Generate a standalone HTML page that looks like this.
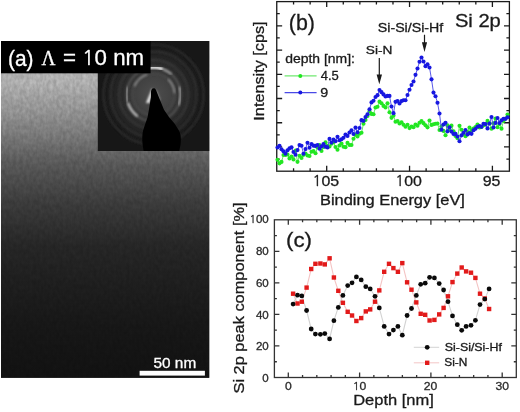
<!DOCTYPE html>
<html><head><meta charset="utf-8"><style>
html,body{margin:0;padding:0;background:#fff;width:520px;height:412px;overflow:hidden}
svg{display:block}
text{font-family:"Liberation Sans",Arial,sans-serif}
</style></head><body>
<svg width="520" height="412" viewBox="0 0 520 412">
<defs>
<linearGradient id="tem" x1="0" y1="41" x2="0" y2="377.8" gradientUnits="userSpaceOnUse">
<stop offset="0.0000" stop-color="rgb(178,178,178)"/>
<stop offset="0.1247" stop-color="rgb(174,174,174)"/>
<stop offset="0.2346" stop-color="rgb(137,137,137)"/>
<stop offset="0.3682" stop-color="rgb(87,87,87)"/>
<stop offset="0.4869" stop-color="rgb(58,58,58)"/>
<stop offset="0.6057" stop-color="rgb(38,38,38)"/>
<stop offset="0.7245" stop-color="rgb(30,30,30)"/>
<stop offset="0.8432" stop-color="rgb(23,23,23)"/>
<stop offset="0.9531" stop-color="rgb(19,19,19)"/>
<stop offset="1.0006" stop-color="rgb(18,18,18)"/>
</linearGradient>
<radialGradient id="glow" cx="153.6" cy="94.5" r="56" gradientUnits="userSpaceOnUse">
<stop offset="0" stop-color="#4e4e4e"/>
<stop offset="0.36" stop-color="#404040"/>
<stop offset="0.5" stop-color="#2e2e2e"/>
<stop offset="0.72" stop-color="#222"/>
<stop offset="1" stop-color="#181818" stop-opacity="0"/>
</radialGradient>
<filter id="blur1" x="-20%" y="-20%" width="140%" height="140%"><feGaussianBlur stdDeviation="1.2"/></filter>
<filter id="blur06" x="-20%" y="-20%" width="140%" height="140%"><feGaussianBlur stdDeviation="0.6"/></filter>
<filter id="noise" x="0" y="0" width="100%" height="100%" color-interpolation-filters="sRGB">
<feTurbulence type="fractalNoise" baseFrequency="0.3 0.2" numOctaves="2" seed="3" result="t"/>
<feColorMatrix in="t" type="matrix" values="1 0 0 0 0  1 0 0 0 0  1 0 0 0 0  0 0 0 0 1" result="g"/>
<feComposite in="SourceGraphic" in2="g" operator="arithmetic" k1="0.28" k2="0.86" k3="0" k4="0"/>
</filter>
</defs>
<g>
<rect x="0" y="0" width="520" height="412" fill="#fff"/>

<rect x="1" y="41" width="208.3" height="336.8" fill="url(#tem)" filter="url(#noise)"/>
<g>
<rect x="97.8" y="41" width="111.5" height="110" fill="#171717"/>
<rect x="97.8" y="41" width="111.5" height="110" fill="url(#glow)"/>
<clipPath id="insclip"><rect x="97.8" y="41" width="111.5" height="110"/></clipPath>
<g clip-path="url(#insclip)" fill="none">
<circle cx="153.6" cy="94.5" r="50" stroke="#2a2a2a" stroke-width="2.2" filter="url(#blur1)"/>
<circle cx="153.6" cy="94.5" r="43" stroke="#303030" stroke-width="2" filter="url(#blur1)"/>
<circle cx="153.6" cy="94.5" r="34.5" stroke="#383838" stroke-width="1.8" filter="url(#blur1)"/>
<circle cx="153.6" cy="94.5" r="27" stroke="#565656" stroke-width="1.8" filter="url(#blur1)"/>
<circle cx="153.6" cy="94.5" r="21" stroke="#4a4a4a" stroke-width="1.6" filter="url(#blur1)"/>
<path d="M145.26 68.82 A27 27 0 0 1 161.94 68.82" stroke="#f4f4f4" stroke-width="2.8" stroke-linecap="round" filter="url(#blur1)"/>
<path d="M138.11 72.38 A27 27 0 0 1 143.49 69.47" stroke="#a0a0a0" stroke-width="2" stroke-linecap="round" filter="url(#blur1)"/>
<path d="M163.71 69.47 A27 27 0 0 1 170.96 73.82" stroke="#9a9a9a" stroke-width="2" stroke-linecap="round" filter="url(#blur1)"/>
<path d="M179.68 87.51 A27 27 0 0 1 178.63 104.61" stroke="#9c9c9c" stroke-width="2" stroke-linecap="round" filter="url(#blur1)"/>
<path d="M136.98 115.78 A27 27 0 0 1 128.23 103.73" stroke="#bcbcbc" stroke-width="2.2" stroke-linecap="round" filter="url(#blur1)"/>
<path d="M127.52 101.49 A27 27 0 0 1 127.52 87.51" stroke="#8c8c8c" stroke-width="2" stroke-linecap="round" filter="url(#blur1)"/>
<path d="M134.57 85.63 A21 21 0 0 1 146.42 74.77" stroke="#8a8a8a" stroke-width="1.8" stroke-linecap="round" filter="url(#blur1)"/>
<path d="M168.45 79.65 A21 21 0 0 1 174.52 92.67" stroke="#8a8a8a" stroke-width="1.8" stroke-linecap="round" filter="url(#blur1)"/>
<path d="M152 88.5 L146 103 L149.5 103 L153.5 90 Z" fill="#f0f0f0" filter="url(#blur1)"/>
<path d="M156 89.5 L160.5 100 L158.5 100.5 L155 91 Z" fill="#9a9a9a" filter="url(#blur1)"/>
</g>
<path d="M153.6 88.2 C151.6 88.2 151.2 90 151 92 L150.9 97.5 L148.9 109.7 L147.5 117.5 L145.4 123.6 L143.1 130.6 C142.2 134 142 140 142.6 144.6 L143.6 151 L179.2 151 L180.6 144.6 C181.2 140 181 134 178.9 130.6 L174.5 123.6 L169.3 117.5 L164 109.7 L159.7 99.2 L156.2 90.5 C155.6 88.8 154.8 88.2 153.6 88.2 Z" fill="#050505" filter="url(#blur06)"/>
</g>
<rect x="1" y="41" width="149.6" height="32.3" fill="#000"/>
<text transform="translate(7.95,65.52) scale(0.959,1)" font-size="21.81" fill="#fff" stroke="#fff" stroke-width="0.3">(a)</text>
<text transform="translate(41.61,64.80) scale(0.936,1)" font-size="20.61" fill="#fff" stroke="#fff" stroke-width="0.3" style="font-family:'Liberation Serif',serif">&#923;</text>
<text transform="translate(62.89,65.18) scale(1.034,1)" font-size="21.55" fill="#fff" stroke="#fff" stroke-width="0.3">= <tspan font-family="NanumGothic, sans-serif" font-size="19.96">1</tspan>0 nm</text>
<rect x="139.6" y="370.8" width="65.3" height="4.8" fill="#fff"/>
<text transform="translate(153.48,367.71) scale(1.087,1)" font-size="14.15" fill="#fff" stroke="#fff" stroke-width="0.3">50 nm</text>
<g stroke="#1a1a1a" stroke-width="1.3" fill="none">
<rect x="276.75" y="1.6" width="232.65" height="169.6"/>
<path d="M492.4 171.2v-5.4M492.4 1.6v5.4M475.83 171.2v-3M475.83 1.6v3M459.26 171.2v-3M459.26 1.6v3M442.69 171.2v-3M442.69 1.6v3M426.12 171.2v-3M426.12 1.6v3M409.55 171.2v-5.4M409.55 1.6v5.4M392.98 171.2v-3M392.98 1.6v3M376.41 171.2v-3M376.41 1.6v3M359.84 171.2v-3M359.84 1.6v3M343.27 171.2v-3M343.27 1.6v3M326.7 171.2v-5.4M326.7 1.6v5.4M310.13 171.2v-3M310.13 1.6v3M293.56 171.2v-3M293.56 1.6v3M276.75 159.09h3M509.4 159.09h-3M276.75 146.97h5.4M509.4 146.97h-5.4M276.75 134.86h3M509.4 134.86h-3M276.75 122.74h5.4M509.4 122.74h-5.4M276.75 110.63h3M509.4 110.63h-3M276.75 98.51h5.4M509.4 98.51h-5.4M276.75 86.4h3M509.4 86.4h-3M276.75 74.29h5.4M509.4 74.29h-5.4M276.75 62.17h3M509.4 62.17h-3M276.75 50.06h5.4M509.4 50.06h-5.4M276.75 37.94h3M509.4 37.94h-3M276.75 25.83h5.4M509.4 25.83h-5.4M276.75 13.71h3M509.4 13.71h-3"/>
</g>
<text transform="translate(325.80,186.40) scale(1.090,1)" font-size="14.60" fill="#1a1a1a" stroke="#1a1a1a" stroke-width="0.3" text-anchor="middle"><tspan font-family="NanumGothic, sans-serif" font-size="13.52">1</tspan>05</text>
<text transform="translate(408.65,186.40) scale(1.090,1)" font-size="14.60" fill="#1a1a1a" stroke="#1a1a1a" stroke-width="0.3" text-anchor="middle"><tspan font-family="NanumGothic, sans-serif" font-size="13.52">1</tspan>00</text>
<text transform="translate(491.50,186.40) scale(1.090,1)" font-size="14.60" fill="#1a1a1a" stroke="#1a1a1a" stroke-width="0.3" text-anchor="middle">95</text>
<text transform="translate(319.99,205.40) scale(1.187,1)" font-size="13.83" fill="#1a1a1a" stroke="#1a1a1a" stroke-width="0.3">Binding Energy [eV]</text>
<text transform="translate(263.85,120.66) rotate(-90) scale(1.083,1)" font-size="15.00" fill="#1a1a1a" stroke="#1a1a1a" stroke-width="0.3">Intensity [cps]</text>
<text transform="translate(288.82,29.83) scale(1.004,1)" font-size="21.28" fill="#1a1a1a" stroke="#1a1a1a" stroke-width="0.3">(b)</text>
<text transform="translate(454.89,27.18) scale(1.109,1)" font-size="18.19" fill="#1a1a1a" stroke="#1a1a1a" stroke-width="0.3">Si 2p</text>
<text transform="translate(377.79,31.57) scale(1.131,1)" font-size="12.57" fill="#1a1a1a" stroke="#1a1a1a" stroke-width="0.3">Si-Si/Si-Hf</text>
<text transform="translate(365.87,53.88) scale(1.177,1)" font-size="11.62" fill="#1a1a1a" stroke="#1a1a1a" stroke-width="0.3">Si-N</text>
<path d="M379.3 58v17M424.5 34.7v8.5" stroke="#1a1a1a" stroke-width="1.2"/>
<path d="M376.6 74.5h5.4l-2.7 9.8z M421.9 42.3h5.2l-2.6 9.6z" fill="#1a1a1a"/>
<text transform="translate(285.24,62.56) scale(1.111,1)" font-size="12.55" fill="#1a1a1a" stroke="#1a1a1a" stroke-width="0.3">depth [nm]:</text>
<path d="M284.6 75.9h32" stroke="#70e870" stroke-width="1.1"/>
<circle cx="300.3" cy="75.9" r="2.0" fill="#22e622"/>
<text transform="translate(320.74,80.07) scale(0.969,1)" font-size="13.43" fill="#1a1a1a" stroke="#1a1a1a" stroke-width="0.3">4.5</text>
<path d="M284.6 92.6h32" stroke="#4a4ae6" stroke-width="1.1"/>
<circle cx="300.3" cy="92.6" r="2.0" fill="#1717e0"/>
<text transform="translate(320.18,97.17) scale(1.072,1)" font-size="13.38" fill="#1a1a1a" stroke="#1a1a1a" stroke-width="0.3">9</text>
<g>
<polyline points="277.5,159.87 279.5,163.37 281.5,161.91 283.5,155.01 285.5,155.04 287.5,154.46 289.5,158.39 291.5,156.46 293.5,159.39 295.5,150.62 297.5,161.83 299.5,155.77 301.5,158.01 303.5,154.84 305.5,153.51 307.5,155.57 309.5,156 311.5,151.71 313.5,151.08 315.5,153.23 317.5,147.54 319.5,144.95 321.5,151.04 323.5,147.02 325.5,142.37 327.5,145.73 329.5,146.51 331.5,143.64 333.5,142.23 335.5,147.05 337.5,149.69 339.5,145.56 341.5,143.54 343.5,146.75 345.5,147.13 347.5,142.92 349.5,145.04 351.5,145.05 353.5,138.8 355.5,134.73 357.5,136.43 359.5,133.76 361.5,132.78 363.5,123.68 365.5,119.93 367.5,116.07 369.5,111.28 371.5,113.88 373.5,114.18 375.5,107.52 377.5,106.77 379.5,101.64 381.5,103.25 383.5,105.9 385.5,107.41 387.5,103.24 389.5,112.23 391.5,117.83 393.5,115.59 395.5,121.79 397.5,121 399.5,123.46 401.5,122.32 403.5,124.76 405.5,126.79 407.5,124.75 409.5,128.1 411.5,126.49 413.5,127.28 415.5,124.46 417.5,125.67 419.5,122.71 421.5,121.02 423.5,123.14 425.5,125.27 427.5,127.33 429.5,120.48 431.5,124.89 433.5,124.31 435.5,123.69 437.5,123.49 439.5,130.01 441.5,126.23 443.5,130.88 445.5,135.18 447.5,125.31 449.5,129.39 451.5,125.63 453.5,131.2 455.5,136.02 457.5,138.26 459.5,125.83 461.5,129.75 463.5,133.69 465.5,136.27 467.5,131.93 469.5,127.56 471.5,130.41 473.5,128.54 475.5,127.11 477.5,124.5 479.5,127.52 481.5,126.9 483.5,125.33 485.5,124.7 487.5,120.88 489.5,123.4 491.5,128.65 493.5,123.3 495.5,118.46 497.5,127.29 499.5,123.95 501.5,128.67 503.5,121.05 505.5,118.6 507.5,114.58" fill="none" stroke="#55e855" stroke-width="0.9"/>
<circle cx="277.5" cy="159.87" r="2.05" fill="#22e622"/><circle cx="279.5" cy="163.37" r="2.05" fill="#22e622"/><circle cx="281.5" cy="161.91" r="2.05" fill="#22e622"/><circle cx="283.5" cy="155.01" r="2.05" fill="#22e622"/><circle cx="285.5" cy="155.04" r="2.05" fill="#22e622"/><circle cx="287.5" cy="154.46" r="2.05" fill="#22e622"/><circle cx="289.5" cy="158.39" r="2.05" fill="#22e622"/><circle cx="291.5" cy="156.46" r="2.05" fill="#22e622"/><circle cx="293.5" cy="159.39" r="2.05" fill="#22e622"/><circle cx="295.5" cy="150.62" r="2.05" fill="#22e622"/><circle cx="297.5" cy="161.83" r="2.05" fill="#22e622"/><circle cx="299.5" cy="155.77" r="2.05" fill="#22e622"/><circle cx="301.5" cy="158.01" r="2.05" fill="#22e622"/><circle cx="303.5" cy="154.84" r="2.05" fill="#22e622"/><circle cx="305.5" cy="153.51" r="2.05" fill="#22e622"/><circle cx="307.5" cy="155.57" r="2.05" fill="#22e622"/><circle cx="309.5" cy="156" r="2.05" fill="#22e622"/><circle cx="311.5" cy="151.71" r="2.05" fill="#22e622"/><circle cx="313.5" cy="151.08" r="2.05" fill="#22e622"/><circle cx="315.5" cy="153.23" r="2.05" fill="#22e622"/><circle cx="317.5" cy="147.54" r="2.05" fill="#22e622"/><circle cx="319.5" cy="144.95" r="2.05" fill="#22e622"/><circle cx="321.5" cy="151.04" r="2.05" fill="#22e622"/><circle cx="323.5" cy="147.02" r="2.05" fill="#22e622"/><circle cx="325.5" cy="142.37" r="2.05" fill="#22e622"/><circle cx="327.5" cy="145.73" r="2.05" fill="#22e622"/><circle cx="329.5" cy="146.51" r="2.05" fill="#22e622"/><circle cx="331.5" cy="143.64" r="2.05" fill="#22e622"/><circle cx="333.5" cy="142.23" r="2.05" fill="#22e622"/><circle cx="335.5" cy="147.05" r="2.05" fill="#22e622"/><circle cx="337.5" cy="149.69" r="2.05" fill="#22e622"/><circle cx="339.5" cy="145.56" r="2.05" fill="#22e622"/><circle cx="341.5" cy="143.54" r="2.05" fill="#22e622"/><circle cx="343.5" cy="146.75" r="2.05" fill="#22e622"/><circle cx="345.5" cy="147.13" r="2.05" fill="#22e622"/><circle cx="347.5" cy="142.92" r="2.05" fill="#22e622"/><circle cx="349.5" cy="145.04" r="2.05" fill="#22e622"/><circle cx="351.5" cy="145.05" r="2.05" fill="#22e622"/><circle cx="353.5" cy="138.8" r="2.05" fill="#22e622"/><circle cx="355.5" cy="134.73" r="2.05" fill="#22e622"/><circle cx="357.5" cy="136.43" r="2.05" fill="#22e622"/><circle cx="359.5" cy="133.76" r="2.05" fill="#22e622"/><circle cx="361.5" cy="132.78" r="2.05" fill="#22e622"/><circle cx="363.5" cy="123.68" r="2.05" fill="#22e622"/><circle cx="365.5" cy="119.93" r="2.05" fill="#22e622"/><circle cx="367.5" cy="116.07" r="2.05" fill="#22e622"/><circle cx="369.5" cy="111.28" r="2.05" fill="#22e622"/><circle cx="371.5" cy="113.88" r="2.05" fill="#22e622"/><circle cx="373.5" cy="114.18" r="2.05" fill="#22e622"/><circle cx="375.5" cy="107.52" r="2.05" fill="#22e622"/><circle cx="377.5" cy="106.77" r="2.05" fill="#22e622"/><circle cx="379.5" cy="101.64" r="2.05" fill="#22e622"/><circle cx="381.5" cy="103.25" r="2.05" fill="#22e622"/><circle cx="383.5" cy="105.9" r="2.05" fill="#22e622"/><circle cx="385.5" cy="107.41" r="2.05" fill="#22e622"/><circle cx="387.5" cy="103.24" r="2.05" fill="#22e622"/><circle cx="389.5" cy="112.23" r="2.05" fill="#22e622"/><circle cx="391.5" cy="117.83" r="2.05" fill="#22e622"/><circle cx="393.5" cy="115.59" r="2.05" fill="#22e622"/><circle cx="395.5" cy="121.79" r="2.05" fill="#22e622"/><circle cx="397.5" cy="121" r="2.05" fill="#22e622"/><circle cx="399.5" cy="123.46" r="2.05" fill="#22e622"/><circle cx="401.5" cy="122.32" r="2.05" fill="#22e622"/><circle cx="403.5" cy="124.76" r="2.05" fill="#22e622"/><circle cx="405.5" cy="126.79" r="2.05" fill="#22e622"/><circle cx="407.5" cy="124.75" r="2.05" fill="#22e622"/><circle cx="409.5" cy="128.1" r="2.05" fill="#22e622"/><circle cx="411.5" cy="126.49" r="2.05" fill="#22e622"/><circle cx="413.5" cy="127.28" r="2.05" fill="#22e622"/><circle cx="415.5" cy="124.46" r="2.05" fill="#22e622"/><circle cx="417.5" cy="125.67" r="2.05" fill="#22e622"/><circle cx="419.5" cy="122.71" r="2.05" fill="#22e622"/><circle cx="421.5" cy="121.02" r="2.05" fill="#22e622"/><circle cx="423.5" cy="123.14" r="2.05" fill="#22e622"/><circle cx="425.5" cy="125.27" r="2.05" fill="#22e622"/><circle cx="427.5" cy="127.33" r="2.05" fill="#22e622"/><circle cx="429.5" cy="120.48" r="2.05" fill="#22e622"/><circle cx="431.5" cy="124.89" r="2.05" fill="#22e622"/><circle cx="433.5" cy="124.31" r="2.05" fill="#22e622"/><circle cx="435.5" cy="123.69" r="2.05" fill="#22e622"/><circle cx="437.5" cy="123.49" r="2.05" fill="#22e622"/><circle cx="439.5" cy="130.01" r="2.05" fill="#22e622"/><circle cx="441.5" cy="126.23" r="2.05" fill="#22e622"/><circle cx="443.5" cy="130.88" r="2.05" fill="#22e622"/><circle cx="445.5" cy="135.18" r="2.05" fill="#22e622"/><circle cx="447.5" cy="125.31" r="2.05" fill="#22e622"/><circle cx="449.5" cy="129.39" r="2.05" fill="#22e622"/><circle cx="451.5" cy="125.63" r="2.05" fill="#22e622"/><circle cx="453.5" cy="131.2" r="2.05" fill="#22e622"/><circle cx="455.5" cy="136.02" r="2.05" fill="#22e622"/><circle cx="457.5" cy="138.26" r="2.05" fill="#22e622"/><circle cx="459.5" cy="125.83" r="2.05" fill="#22e622"/><circle cx="461.5" cy="129.75" r="2.05" fill="#22e622"/><circle cx="463.5" cy="133.69" r="2.05" fill="#22e622"/><circle cx="465.5" cy="136.27" r="2.05" fill="#22e622"/><circle cx="467.5" cy="131.93" r="2.05" fill="#22e622"/><circle cx="469.5" cy="127.56" r="2.05" fill="#22e622"/><circle cx="471.5" cy="130.41" r="2.05" fill="#22e622"/><circle cx="473.5" cy="128.54" r="2.05" fill="#22e622"/><circle cx="475.5" cy="127.11" r="2.05" fill="#22e622"/><circle cx="477.5" cy="124.5" r="2.05" fill="#22e622"/><circle cx="479.5" cy="127.52" r="2.05" fill="#22e622"/><circle cx="481.5" cy="126.9" r="2.05" fill="#22e622"/><circle cx="483.5" cy="125.33" r="2.05" fill="#22e622"/><circle cx="485.5" cy="124.7" r="2.05" fill="#22e622"/><circle cx="487.5" cy="120.88" r="2.05" fill="#22e622"/><circle cx="489.5" cy="123.4" r="2.05" fill="#22e622"/><circle cx="491.5" cy="128.65" r="2.05" fill="#22e622"/><circle cx="493.5" cy="123.3" r="2.05" fill="#22e622"/><circle cx="495.5" cy="118.46" r="2.05" fill="#22e622"/><circle cx="497.5" cy="127.29" r="2.05" fill="#22e622"/><circle cx="499.5" cy="123.95" r="2.05" fill="#22e622"/><circle cx="501.5" cy="128.67" r="2.05" fill="#22e622"/><circle cx="503.5" cy="121.05" r="2.05" fill="#22e622"/><circle cx="505.5" cy="118.6" r="2.05" fill="#22e622"/><circle cx="507.5" cy="114.58" r="2.05" fill="#22e622"/>
<polyline points="277.5,147.43 279.5,145.76 281.5,149.21 283.5,151.35 285.5,153.64 287.5,150.35 289.5,148.23 291.5,147.34 293.5,152.05 295.5,154.68 297.5,150.12 299.5,145.1 301.5,145.78 303.5,153.77 305.5,149.1 307.5,142.71 309.5,147.78 311.5,144.13 313.5,145.64 315.5,145.89 317.5,144.97 319.5,148.82 321.5,146.35 323.5,144.06 325.5,146.66 327.5,147.41 329.5,138.89 331.5,142.58 333.5,139.46 335.5,141.25 337.5,136.87 339.5,140.27 341.5,139.32 343.5,137.71 345.5,134.58 347.5,135.92 349.5,132.51 351.5,130.33 353.5,134.05 355.5,127.58 357.5,132.37 359.5,128.04 361.5,120.15 363.5,120.85 365.5,117.07 367.5,114.29 369.5,109.31 371.5,102.42 373.5,100.7 375.5,97.04 377.5,95.13 379.5,89.96 381.5,92.13 383.5,94.4 385.5,96.57 387.5,95.91 389.5,95.88 391.5,106.49 393.5,113.16 395.5,101.83 397.5,100.97 399.5,103.47 401.5,101.09 403.5,100.28 405.5,100.26 407.5,94.98 409.5,89.75 411.5,84.97 413.5,81.46 415.5,74.86 417.5,68.55 419.5,61.82 421.5,57.47 423.5,61.54 425.5,66.16 427.5,64.31 429.5,67.44 431.5,79.33 433.5,92.59 435.5,96.2 437.5,102.74 439.5,113.52 441.5,129.71 443.5,124.46 445.5,122.8 447.5,131.34 449.5,127.3 451.5,131.59 453.5,133.98 455.5,133.91 457.5,136.49 459.5,141.28 461.5,135.35 463.5,132.76 465.5,130.05 467.5,134.42 469.5,133.09 471.5,133.85 473.5,130.18 475.5,128.8 477.5,126.69 479.5,126 481.5,126.85 483.5,123.78 485.5,123.99 487.5,128.42 489.5,123.53 491.5,116.96 493.5,127.55 495.5,122.91 497.5,117.99 499.5,123.1 501.5,120.36 503.5,118.73 505.5,118.85 507.5,117.2" fill="none" stroke="#4545e8" stroke-width="0.9"/>
<circle cx="277.5" cy="147.43" r="2.05" fill="#1717e0"/><circle cx="279.5" cy="145.76" r="2.05" fill="#1717e0"/><circle cx="281.5" cy="149.21" r="2.05" fill="#1717e0"/><circle cx="283.5" cy="151.35" r="2.05" fill="#1717e0"/><circle cx="285.5" cy="153.64" r="2.05" fill="#1717e0"/><circle cx="287.5" cy="150.35" r="2.05" fill="#1717e0"/><circle cx="289.5" cy="148.23" r="2.05" fill="#1717e0"/><circle cx="291.5" cy="147.34" r="2.05" fill="#1717e0"/><circle cx="293.5" cy="152.05" r="2.05" fill="#1717e0"/><circle cx="295.5" cy="154.68" r="2.05" fill="#1717e0"/><circle cx="297.5" cy="150.12" r="2.05" fill="#1717e0"/><circle cx="299.5" cy="145.1" r="2.05" fill="#1717e0"/><circle cx="301.5" cy="145.78" r="2.05" fill="#1717e0"/><circle cx="303.5" cy="153.77" r="2.05" fill="#1717e0"/><circle cx="305.5" cy="149.1" r="2.05" fill="#1717e0"/><circle cx="307.5" cy="142.71" r="2.05" fill="#1717e0"/><circle cx="309.5" cy="147.78" r="2.05" fill="#1717e0"/><circle cx="311.5" cy="144.13" r="2.05" fill="#1717e0"/><circle cx="313.5" cy="145.64" r="2.05" fill="#1717e0"/><circle cx="315.5" cy="145.89" r="2.05" fill="#1717e0"/><circle cx="317.5" cy="144.97" r="2.05" fill="#1717e0"/><circle cx="319.5" cy="148.82" r="2.05" fill="#1717e0"/><circle cx="321.5" cy="146.35" r="2.05" fill="#1717e0"/><circle cx="323.5" cy="144.06" r="2.05" fill="#1717e0"/><circle cx="325.5" cy="146.66" r="2.05" fill="#1717e0"/><circle cx="327.5" cy="147.41" r="2.05" fill="#1717e0"/><circle cx="329.5" cy="138.89" r="2.05" fill="#1717e0"/><circle cx="331.5" cy="142.58" r="2.05" fill="#1717e0"/><circle cx="333.5" cy="139.46" r="2.05" fill="#1717e0"/><circle cx="335.5" cy="141.25" r="2.05" fill="#1717e0"/><circle cx="337.5" cy="136.87" r="2.05" fill="#1717e0"/><circle cx="339.5" cy="140.27" r="2.05" fill="#1717e0"/><circle cx="341.5" cy="139.32" r="2.05" fill="#1717e0"/><circle cx="343.5" cy="137.71" r="2.05" fill="#1717e0"/><circle cx="345.5" cy="134.58" r="2.05" fill="#1717e0"/><circle cx="347.5" cy="135.92" r="2.05" fill="#1717e0"/><circle cx="349.5" cy="132.51" r="2.05" fill="#1717e0"/><circle cx="351.5" cy="130.33" r="2.05" fill="#1717e0"/><circle cx="353.5" cy="134.05" r="2.05" fill="#1717e0"/><circle cx="355.5" cy="127.58" r="2.05" fill="#1717e0"/><circle cx="357.5" cy="132.37" r="2.05" fill="#1717e0"/><circle cx="359.5" cy="128.04" r="2.05" fill="#1717e0"/><circle cx="361.5" cy="120.15" r="2.05" fill="#1717e0"/><circle cx="363.5" cy="120.85" r="2.05" fill="#1717e0"/><circle cx="365.5" cy="117.07" r="2.05" fill="#1717e0"/><circle cx="367.5" cy="114.29" r="2.05" fill="#1717e0"/><circle cx="369.5" cy="109.31" r="2.05" fill="#1717e0"/><circle cx="371.5" cy="102.42" r="2.05" fill="#1717e0"/><circle cx="373.5" cy="100.7" r="2.05" fill="#1717e0"/><circle cx="375.5" cy="97.04" r="2.05" fill="#1717e0"/><circle cx="377.5" cy="95.13" r="2.05" fill="#1717e0"/><circle cx="379.5" cy="89.96" r="2.05" fill="#1717e0"/><circle cx="381.5" cy="92.13" r="2.05" fill="#1717e0"/><circle cx="383.5" cy="94.4" r="2.05" fill="#1717e0"/><circle cx="385.5" cy="96.57" r="2.05" fill="#1717e0"/><circle cx="387.5" cy="95.91" r="2.05" fill="#1717e0"/><circle cx="389.5" cy="95.88" r="2.05" fill="#1717e0"/><circle cx="391.5" cy="106.49" r="2.05" fill="#1717e0"/><circle cx="393.5" cy="113.16" r="2.05" fill="#1717e0"/><circle cx="395.5" cy="101.83" r="2.05" fill="#1717e0"/><circle cx="397.5" cy="100.97" r="2.05" fill="#1717e0"/><circle cx="399.5" cy="103.47" r="2.05" fill="#1717e0"/><circle cx="401.5" cy="101.09" r="2.05" fill="#1717e0"/><circle cx="403.5" cy="100.28" r="2.05" fill="#1717e0"/><circle cx="405.5" cy="100.26" r="2.05" fill="#1717e0"/><circle cx="407.5" cy="94.98" r="2.05" fill="#1717e0"/><circle cx="409.5" cy="89.75" r="2.05" fill="#1717e0"/><circle cx="411.5" cy="84.97" r="2.05" fill="#1717e0"/><circle cx="413.5" cy="81.46" r="2.05" fill="#1717e0"/><circle cx="415.5" cy="74.86" r="2.05" fill="#1717e0"/><circle cx="417.5" cy="68.55" r="2.05" fill="#1717e0"/><circle cx="419.5" cy="61.82" r="2.05" fill="#1717e0"/><circle cx="421.5" cy="57.47" r="2.05" fill="#1717e0"/><circle cx="423.5" cy="61.54" r="2.05" fill="#1717e0"/><circle cx="425.5" cy="66.16" r="2.05" fill="#1717e0"/><circle cx="427.5" cy="64.31" r="2.05" fill="#1717e0"/><circle cx="429.5" cy="67.44" r="2.05" fill="#1717e0"/><circle cx="431.5" cy="79.33" r="2.05" fill="#1717e0"/><circle cx="433.5" cy="92.59" r="2.05" fill="#1717e0"/><circle cx="435.5" cy="96.2" r="2.05" fill="#1717e0"/><circle cx="437.5" cy="102.74" r="2.05" fill="#1717e0"/><circle cx="439.5" cy="113.52" r="2.05" fill="#1717e0"/><circle cx="441.5" cy="129.71" r="2.05" fill="#1717e0"/><circle cx="443.5" cy="124.46" r="2.05" fill="#1717e0"/><circle cx="445.5" cy="122.8" r="2.05" fill="#1717e0"/><circle cx="447.5" cy="131.34" r="2.05" fill="#1717e0"/><circle cx="449.5" cy="127.3" r="2.05" fill="#1717e0"/><circle cx="451.5" cy="131.59" r="2.05" fill="#1717e0"/><circle cx="453.5" cy="133.98" r="2.05" fill="#1717e0"/><circle cx="455.5" cy="133.91" r="2.05" fill="#1717e0"/><circle cx="457.5" cy="136.49" r="2.05" fill="#1717e0"/><circle cx="459.5" cy="141.28" r="2.05" fill="#1717e0"/><circle cx="461.5" cy="135.35" r="2.05" fill="#1717e0"/><circle cx="463.5" cy="132.76" r="2.05" fill="#1717e0"/><circle cx="465.5" cy="130.05" r="2.05" fill="#1717e0"/><circle cx="467.5" cy="134.42" r="2.05" fill="#1717e0"/><circle cx="469.5" cy="133.09" r="2.05" fill="#1717e0"/><circle cx="471.5" cy="133.85" r="2.05" fill="#1717e0"/><circle cx="473.5" cy="130.18" r="2.05" fill="#1717e0"/><circle cx="475.5" cy="128.8" r="2.05" fill="#1717e0"/><circle cx="477.5" cy="126.69" r="2.05" fill="#1717e0"/><circle cx="479.5" cy="126" r="2.05" fill="#1717e0"/><circle cx="481.5" cy="126.85" r="2.05" fill="#1717e0"/><circle cx="483.5" cy="123.78" r="2.05" fill="#1717e0"/><circle cx="485.5" cy="123.99" r="2.05" fill="#1717e0"/><circle cx="487.5" cy="128.42" r="2.05" fill="#1717e0"/><circle cx="489.5" cy="123.53" r="2.05" fill="#1717e0"/><circle cx="491.5" cy="116.96" r="2.05" fill="#1717e0"/><circle cx="493.5" cy="127.55" r="2.05" fill="#1717e0"/><circle cx="495.5" cy="122.91" r="2.05" fill="#1717e0"/><circle cx="497.5" cy="117.99" r="2.05" fill="#1717e0"/><circle cx="499.5" cy="123.1" r="2.05" fill="#1717e0"/><circle cx="501.5" cy="120.36" r="2.05" fill="#1717e0"/><circle cx="503.5" cy="118.73" r="2.05" fill="#1717e0"/><circle cx="505.5" cy="118.85" r="2.05" fill="#1717e0"/><circle cx="507.5" cy="117.2" r="2.05" fill="#1717e0"/>
</g>
<g stroke="#333" stroke-width="1.3" fill="none">
<rect x="274.4" y="219.8" width="241.9" height="157.7"/>
<path d="M288.3 377.5v-5M288.3 219.8v5M302.56 377.5v-2.5M302.56 219.8v2.5M316.82 377.5v-2.5M316.82 219.8v2.5M331.08 377.5v-2.5M331.08 219.8v2.5M345.34 377.5v-2.5M345.34 219.8v2.5M359.6 377.5v-5M359.6 219.8v5M373.86 377.5v-2.5M373.86 219.8v2.5M388.12 377.5v-2.5M388.12 219.8v2.5M402.38 377.5v-2.5M402.38 219.8v2.5M416.64 377.5v-2.5M416.64 219.8v2.5M430.9 377.5v-5M430.9 219.8v5M445.16 377.5v-2.5M445.16 219.8v2.5M459.42 377.5v-2.5M459.42 219.8v2.5M473.68 377.5v-2.5M473.68 219.8v2.5M487.94 377.5v-2.5M487.94 219.8v2.5M502.2 377.5v-5M502.2 219.8v5M274.4 361.73h2.5M516.3 361.73h-2.5M274.4 345.96h5M516.3 345.96h-5M274.4 330.19h2.5M516.3 330.19h-2.5M274.4 314.42h5M516.3 314.42h-5M274.4 298.65h2.5M516.3 298.65h-2.5M274.4 282.88h5M516.3 282.88h-5M274.4 267.11h2.5M516.3 267.11h-2.5M274.4 251.34h5M516.3 251.34h-5M274.4 235.57h2.5M516.3 235.57h-2.5"/>
</g>
<text transform="translate(268.75,381.60) scale(1.000,1)" font-size="11.55" fill="#2a2a2a" stroke="#2a2a2a" stroke-width="0.3" text-anchor="end">0</text>
<text transform="translate(268.75,350.06) scale(1.000,1)" font-size="11.55" fill="#2a2a2a" stroke="#2a2a2a" stroke-width="0.3" text-anchor="end">20</text>
<text transform="translate(268.75,318.52) scale(1.000,1)" font-size="11.55" fill="#2a2a2a" stroke="#2a2a2a" stroke-width="0.3" text-anchor="end">40</text>
<text transform="translate(268.75,286.98) scale(1.000,1)" font-size="11.55" fill="#2a2a2a" stroke="#2a2a2a" stroke-width="0.3" text-anchor="end">60</text>
<text transform="translate(268.75,255.44) scale(1.000,1)" font-size="11.55" fill="#2a2a2a" stroke="#2a2a2a" stroke-width="0.3" text-anchor="end">80</text>
<text transform="translate(268.75,222.70) scale(1.000,1)" font-size="11.55" fill="#2a2a2a" stroke="#2a2a2a" stroke-width="0.3" text-anchor="end"><tspan font-family="NanumGothic, sans-serif" font-size="10.70">1</tspan>00</text>
<text transform="translate(288.30,390.20) scale(1.040,1)" font-size="11.70" fill="#2a2a2a" stroke="#2a2a2a" stroke-width="0.3" text-anchor="middle">0</text>
<text transform="translate(359.60,390.20) scale(1.040,1)" font-size="11.70" fill="#2a2a2a" stroke="#2a2a2a" stroke-width="0.3" text-anchor="middle"><tspan font-family="NanumGothic, sans-serif" font-size="10.83">1</tspan>0</text>
<text transform="translate(430.60,390.20) scale(1.040,1)" font-size="11.70" fill="#2a2a2a" stroke="#2a2a2a" stroke-width="0.3" text-anchor="middle">20</text>
<text transform="translate(502.20,390.20) scale(1.040,1)" font-size="11.70" fill="#2a2a2a" stroke="#2a2a2a" stroke-width="0.3" text-anchor="middle">30</text>
<text transform="translate(353.18,405.35) scale(1.100,1)" font-size="15.00" fill="#1a1a1a" stroke="#1a1a1a" stroke-width="0.3">Depth [nm]</text>
<text transform="translate(244.43,393.52) rotate(-90) scale(1.084,1)" font-size="15.11" fill="#1a1a1a" stroke="#1a1a1a" stroke-width="0.3">Si 2p peak component [%]</text>
<text transform="translate(285.96,246.90) scale(1.064,1)" font-size="20.96" fill="#1a1a1a" stroke="#1a1a1a" stroke-width="0.3">(c)</text>
<polyline points="293.1,293.7 297.5,303.5 301.8,301.7 306.6,287.6 311.2,269 315.4,263.8 320.4,263.5 324.8,264.4 329.6,258.3 333.9,277.5 338.3,290.8 342.9,302.8 347.7,311.8 352.05,315.5 356.4,321 361.2,318.1 365.8,311.4 370.2,309.4 375,301.7 379.3,290.4 384.2,271.8 389,263.8 393.4,268.1 397.9,271.8 402.3,263.1 407.1,282.3 411.5,289.7 416.3,302.4 420.7,313.8 425.2,314.8 429.6,320.5 434.4,319.9 439.2,314.4 443.6,307.9 448,296.3 452.5,282.1 457.3,273.6 461.7,267.5 466.1,271.4 471,272.7 475.4,277.9 480,293.7 484.8,298.5 489.1,309" fill="none" stroke="#f4c4c4" stroke-width="1.1"/>
<polyline points="293.1,304.1 297.5,295.2 301.8,295.9 306.6,310.5 311.2,329 315.4,334.1 320.4,334.3 324.8,333.6 329.6,338.9 333.9,320.7 338.3,307.4 342.9,295.4 347.7,285.6 352.05,282.8 356.4,276.9 361.2,279.9 365.8,286.7 370.2,288.9 375,296.3 379.3,307.9 384.2,326.4 389,334.1 393.4,330.1 397.9,326.4 402.3,335.2 407.1,315.5 411.5,308.5 416.3,295.4 420.7,284.3 425.2,283.2 429.6,277.3 434.4,277.9 439.2,283.6 443.6,290 448,301.7 452.5,315.9 457.3,324.7 461.7,330.3 466.1,326.4 471,325.3 475.4,320.3 480,304.6 484.8,299.1 489.1,288.9" fill="none" stroke="#d2d2d2" stroke-width="1.1"/>
<rect x="290.9" y="291.5" width="4.4" height="4.4" fill="#e21a1a"/><rect x="295.3" y="301.3" width="4.4" height="4.4" fill="#e21a1a"/><rect x="299.6" y="299.5" width="4.4" height="4.4" fill="#e21a1a"/><rect x="304.4" y="285.4" width="4.4" height="4.4" fill="#e21a1a"/><rect x="309" y="266.8" width="4.4" height="4.4" fill="#e21a1a"/><rect x="313.2" y="261.6" width="4.4" height="4.4" fill="#e21a1a"/><rect x="318.2" y="261.3" width="4.4" height="4.4" fill="#e21a1a"/><rect x="322.6" y="262.2" width="4.4" height="4.4" fill="#e21a1a"/><rect x="327.4" y="256.1" width="4.4" height="4.4" fill="#e21a1a"/><rect x="331.7" y="275.3" width="4.4" height="4.4" fill="#e21a1a"/><rect x="336.1" y="288.6" width="4.4" height="4.4" fill="#e21a1a"/><rect x="340.7" y="300.6" width="4.4" height="4.4" fill="#e21a1a"/><rect x="345.5" y="309.6" width="4.4" height="4.4" fill="#e21a1a"/><rect x="349.85" y="313.3" width="4.4" height="4.4" fill="#e21a1a"/><rect x="354.2" y="318.8" width="4.4" height="4.4" fill="#e21a1a"/><rect x="359" y="315.9" width="4.4" height="4.4" fill="#e21a1a"/><rect x="363.6" y="309.2" width="4.4" height="4.4" fill="#e21a1a"/><rect x="368" y="307.2" width="4.4" height="4.4" fill="#e21a1a"/><rect x="372.8" y="299.5" width="4.4" height="4.4" fill="#e21a1a"/><rect x="377.1" y="288.2" width="4.4" height="4.4" fill="#e21a1a"/><rect x="382" y="269.6" width="4.4" height="4.4" fill="#e21a1a"/><rect x="386.8" y="261.6" width="4.4" height="4.4" fill="#e21a1a"/><rect x="391.2" y="265.9" width="4.4" height="4.4" fill="#e21a1a"/><rect x="395.7" y="269.6" width="4.4" height="4.4" fill="#e21a1a"/><rect x="400.1" y="260.9" width="4.4" height="4.4" fill="#e21a1a"/><rect x="404.9" y="280.1" width="4.4" height="4.4" fill="#e21a1a"/><rect x="409.3" y="287.5" width="4.4" height="4.4" fill="#e21a1a"/><rect x="414.1" y="300.2" width="4.4" height="4.4" fill="#e21a1a"/><rect x="418.5" y="311.6" width="4.4" height="4.4" fill="#e21a1a"/><rect x="423" y="312.6" width="4.4" height="4.4" fill="#e21a1a"/><rect x="427.4" y="318.3" width="4.4" height="4.4" fill="#e21a1a"/><rect x="432.2" y="317.7" width="4.4" height="4.4" fill="#e21a1a"/><rect x="437" y="312.2" width="4.4" height="4.4" fill="#e21a1a"/><rect x="441.4" y="305.7" width="4.4" height="4.4" fill="#e21a1a"/><rect x="445.8" y="294.1" width="4.4" height="4.4" fill="#e21a1a"/><rect x="450.3" y="279.9" width="4.4" height="4.4" fill="#e21a1a"/><rect x="455.1" y="271.4" width="4.4" height="4.4" fill="#e21a1a"/><rect x="459.5" y="265.3" width="4.4" height="4.4" fill="#e21a1a"/><rect x="463.9" y="269.2" width="4.4" height="4.4" fill="#e21a1a"/><rect x="468.8" y="270.5" width="4.4" height="4.4" fill="#e21a1a"/><rect x="473.2" y="275.7" width="4.4" height="4.4" fill="#e21a1a"/><rect x="477.8" y="291.5" width="4.4" height="4.4" fill="#e21a1a"/><rect x="482.6" y="296.3" width="4.4" height="4.4" fill="#e21a1a"/><rect x="486.9" y="306.8" width="4.4" height="4.4" fill="#e21a1a"/>
<circle cx="293.1" cy="304.1" r="2.4" fill="#0a0a0a"/><circle cx="297.5" cy="295.2" r="2.4" fill="#0a0a0a"/><circle cx="301.8" cy="295.9" r="2.4" fill="#0a0a0a"/><circle cx="306.6" cy="310.5" r="2.4" fill="#0a0a0a"/><circle cx="311.2" cy="329" r="2.4" fill="#0a0a0a"/><circle cx="315.4" cy="334.1" r="2.4" fill="#0a0a0a"/><circle cx="320.4" cy="334.3" r="2.4" fill="#0a0a0a"/><circle cx="324.8" cy="333.6" r="2.4" fill="#0a0a0a"/><circle cx="329.6" cy="338.9" r="2.4" fill="#0a0a0a"/><circle cx="333.9" cy="320.7" r="2.4" fill="#0a0a0a"/><circle cx="338.3" cy="307.4" r="2.4" fill="#0a0a0a"/><circle cx="342.9" cy="295.4" r="2.4" fill="#0a0a0a"/><circle cx="347.7" cy="285.6" r="2.4" fill="#0a0a0a"/><circle cx="352.05" cy="282.8" r="2.4" fill="#0a0a0a"/><circle cx="356.4" cy="276.9" r="2.4" fill="#0a0a0a"/><circle cx="361.2" cy="279.9" r="2.4" fill="#0a0a0a"/><circle cx="365.8" cy="286.7" r="2.4" fill="#0a0a0a"/><circle cx="370.2" cy="288.9" r="2.4" fill="#0a0a0a"/><circle cx="375" cy="296.3" r="2.4" fill="#0a0a0a"/><circle cx="379.3" cy="307.9" r="2.4" fill="#0a0a0a"/><circle cx="384.2" cy="326.4" r="2.4" fill="#0a0a0a"/><circle cx="389" cy="334.1" r="2.4" fill="#0a0a0a"/><circle cx="393.4" cy="330.1" r="2.4" fill="#0a0a0a"/><circle cx="397.9" cy="326.4" r="2.4" fill="#0a0a0a"/><circle cx="402.3" cy="335.2" r="2.4" fill="#0a0a0a"/><circle cx="407.1" cy="315.5" r="2.4" fill="#0a0a0a"/><circle cx="411.5" cy="308.5" r="2.4" fill="#0a0a0a"/><circle cx="416.3" cy="295.4" r="2.4" fill="#0a0a0a"/><circle cx="420.7" cy="284.3" r="2.4" fill="#0a0a0a"/><circle cx="425.2" cy="283.2" r="2.4" fill="#0a0a0a"/><circle cx="429.6" cy="277.3" r="2.4" fill="#0a0a0a"/><circle cx="434.4" cy="277.9" r="2.4" fill="#0a0a0a"/><circle cx="439.2" cy="283.6" r="2.4" fill="#0a0a0a"/><circle cx="443.6" cy="290" r="2.4" fill="#0a0a0a"/><circle cx="448" cy="301.7" r="2.4" fill="#0a0a0a"/><circle cx="452.5" cy="315.9" r="2.4" fill="#0a0a0a"/><circle cx="457.3" cy="324.7" r="2.4" fill="#0a0a0a"/><circle cx="461.7" cy="330.3" r="2.4" fill="#0a0a0a"/><circle cx="466.1" cy="326.4" r="2.4" fill="#0a0a0a"/><circle cx="471" cy="325.3" r="2.4" fill="#0a0a0a"/><circle cx="475.4" cy="320.3" r="2.4" fill="#0a0a0a"/><circle cx="480" cy="304.6" r="2.4" fill="#0a0a0a"/><circle cx="484.8" cy="299.1" r="2.4" fill="#0a0a0a"/><circle cx="489.1" cy="288.9" r="2.4" fill="#0a0a0a"/>
<path d="M413.8 347.3h25.4" stroke="#c8c8c8" stroke-width="0.8"/>
<circle cx="427.2" cy="347.3" r="2.4" fill="#0a0a0a"/>
<text transform="translate(444.83,351.40) scale(1.205,1)" font-size="10.27" fill="#1a1a1a" stroke="#1a1a1a" stroke-width="0.3">Si-Si/Si-Hf</text>
<path d="M413.8 362.8h25.4" stroke="#f0b8b8" stroke-width="0.8"/>
<rect x="425" y="360.6" width="4.4" height="4.4" fill="#e21a1a"/>
<text transform="translate(444.31,366.00) scale(1.188,1)" font-size="10.00" fill="#1a1a1a" stroke="#1a1a1a" stroke-width="0.3">Si-N</text>
</g></svg>
</body></html>
